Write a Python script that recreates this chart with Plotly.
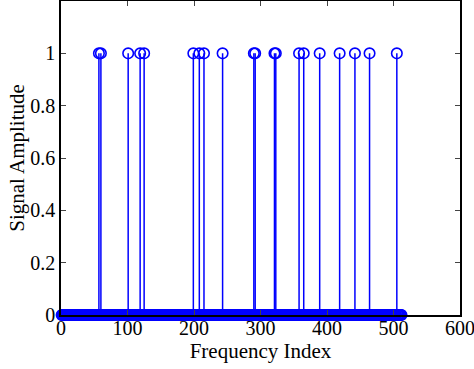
import numpy as np
import plotly.graph_objects as go

# Data
n_points = 512
spike_positions = [57, 60, 101, 119, 125, 199, 208, 215, 243, 290, 292,
                   321, 323, 358, 365, 389, 419, 442, 464, 505]
spike_amplitudes = [1] * len(spike_positions)
x_ticks = [0, 100, 200, 300, 400, 500, 600]
y_ticks = [0, 0.2, 0.4, 0.6, 0.8, 1]
y_tick_labels = ["0", "0.2", "0.4", "0.6", "0.8", "1"]

x = np.arange(1, n_points + 1)
y = np.zeros(n_points)
for p, a in zip(spike_positions, spike_amplitudes):
    y[p - 1] = a

blue = "rgb(0,0,255)"
fig = go.Figure()
fig.add_trace(go.Scatter(
    x=x, y=y, mode="markers",
    marker=dict(symbol="circle-open", size=10.5, color=blue, line=dict(width=1.6, color=blue)),
    error_y=dict(type="data", symmetric=False, array=np.zeros(n_points), arrayminus=y,
                 width=0, thickness=1.5, color=blue),
    cliponaxis=False, showlegend=False, hoverinfo="skip",
))

tick_font = dict(family="Liberation Serif", size=20, color="black")
title_font = dict(family="Liberation Serif", size=21, color="black")
fig.update_layout(
    width=474, height=369,
    margin=dict(l=61, r=14, t=1, b=54),
    paper_bgcolor="white", plot_bgcolor="white",
    font=tick_font,
    xaxis=dict(range=[0, 600], tickvals=x_ticks, ticks="inside", ticklen=5,
               showline=True, linecolor="black", linewidth=1.5, mirror="ticks",
               showgrid=False, zeroline=False, automargin=False,
               ticklabeloverflow="allow", ticklabelstandoff=-6,
               title=dict(text="Frequency Index", font=title_font, standoff=0),
               tickfont=tick_font),
    yaxis=dict(range=[0, 1.2], tickvals=y_ticks, ticktext=y_tick_labels,
               ticks="inside", ticklen=5,
               showline=True, linecolor="black", linewidth=1.5, mirror="ticks",
               showgrid=False, zeroline=False, automargin=False,
               title=dict(text="Signal Amplitude", font=title_font, standoff=0),
               tickfont=tick_font),
)
fig.write_html("out.html", config={"displayModeBar": False},
               post_script="document.body.style.margin='0';document.body.style.padding='0';")
